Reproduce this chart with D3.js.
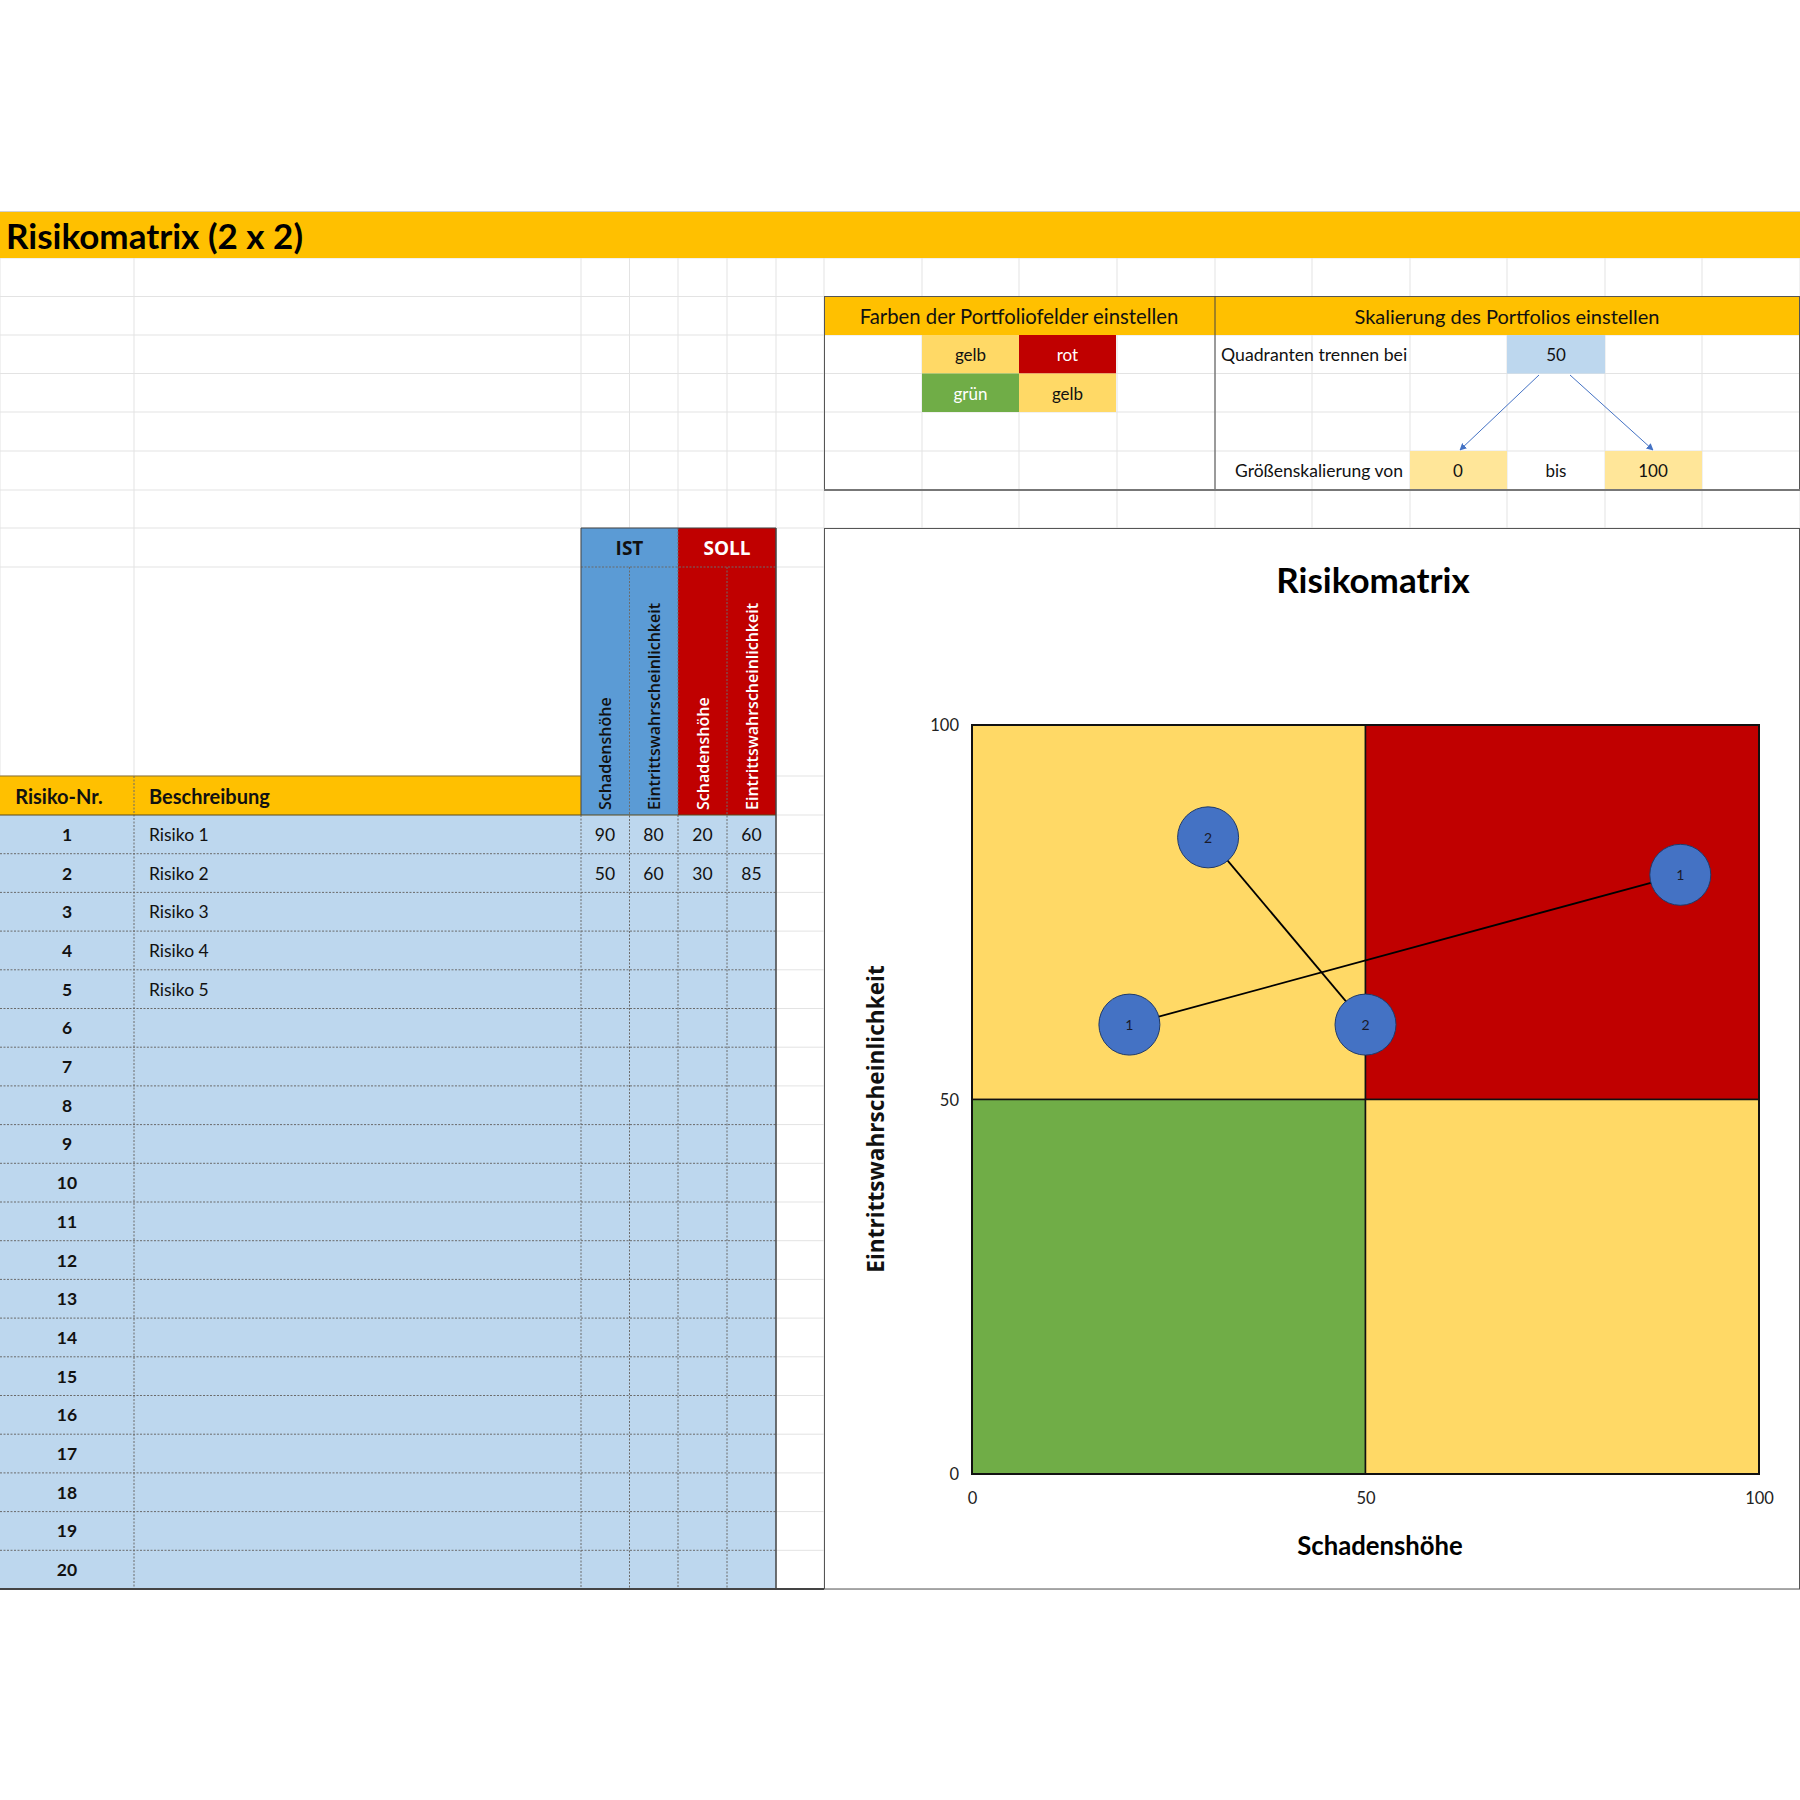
<!DOCTYPE html>
<html><head><meta charset="utf-8">
<script src="https://cdn.jsdelivr.net/npm/d3@7"></script>
<style>html,body{margin:0;padding:0;background:#fff}svg{display:block}</style>
</head><body>
<script>
// ---------- DATA ----------
const riskNumbers = d3.range(1, 21);
const riskDescriptions = ["Risiko 1","Risiko 2","Risiko 3","Risiko 4","Risiko 5"];
const istSchaden = [90, 50];
const istEintritt = [80, 60];
const sollSchaden = [20, 30];
const sollEintritt = [60, 85];
const axisTicks = [0, 50, 100];
const quadrantSplit = 50;
const sizeFrom = 0, sizeTo = 100;
const quadrantColorNames = ["gelb","rot","grün","gelb"];

// ---------- LAYOUT ----------
const W = 1800, H = 1800;
const F = "Lato, 'Open Sans', sans-serif";
const F2 = "'Open Sans', sans-serif";
const C = {orange:"#FFC000", lblue:"#BDD7EE", blue:"#5B9BD5", red:"#C00000",
  yellow:"#FFD966", green:"#70AD47", lyellow:"#FFE699", grid:"#E3E3E3", bubble:"#4472C4"};
const colB = [0,134,581,629.5,678,727,776,824,922,1019,1117,1215,1312,1410,1507,1605,1702,1800];
const rowH = 38.7;
const dataTop = 815;
const rowB = [212,258,296.5,335,373.5,412,451,490,528,567,776,815].concat(d3.range(1,21).map(k=>dataTop+k*rowH));
const tableBottom = dataTop + 20*rowH;

const svg = d3.select("body").append("svg").attr("width",W).attr("height",H);

// sheet gridlines
const grid = svg.append("g");
rowB.forEach(y=>grid.append("line").attr("x1",0).attr("x2",W).attr("y1",y).attr("y2",y).attr("stroke",C.grid));
colB.forEach(x=>grid.append("line").attr("x1",x).attr("x2",x).attr("y1",258).attr("y2",tableBottom).attr("stroke",C.grid));

// title bar
svg.append("rect").attr("x",0).attr("y",212).attr("width",W).attr("height",46).attr("fill",C.orange);
svg.append("line").attr("x1",0).attr("x2",W).attr("y1",211.5).attr("y2",211.5).attr("stroke","#D0D0D0");
svg.append("text").attr("x",6).attr("y",248.5).attr("font-family",F).attr("font-weight",700)
  .attr("font-size",35).attr("fill","#000").text("Risikomatrix (2 x 2)");

// ---------- SETTINGS PANEL ----------
const P = svg.append("g");
P.append("rect").attr("x",824).attr("y",296.5).attr("width",W-824).attr("height",38.5).attr("fill",C.orange);
const cellTxt=(x,y,t,opt={})=>P.append("text").attr("x",x).attr("y",y).attr("text-anchor",opt.anchor||"middle")
  .attr("dominant-baseline","central").attr("font-family",F).attr("font-size",opt.size||17)
  .attr("fill",opt.fill||"#111").text(t);
cellTxt(1019,316,"Farben der Portfoliofelder einstellen",{size:20.3});
cellTxt(1507,316,"Skalierung des Portfolios einstellen",{size:20});
const qcells = [
  {x:922,y:335,c:C.yellow,t:quadrantColorNames[0],f:"#111"},
  {x:1019,y:335,c:C.red,t:quadrantColorNames[1],f:"#fff"},
  {x:922,y:373.5,c:C.green,t:quadrantColorNames[2],f:"#fff"},
  {x:1019,y:373.5,c:C.yellow,t:quadrantColorNames[3],f:"#111"}];
qcells.forEach(q=>{P.append("rect").attr("x",q.x).attr("y",q.y).attr("width",97).attr("height",38.5).attr("fill",q.c);
  cellTxt(q.x+48.5,q.y+19.5,q.t,{fill:q.f});});
cellTxt(1221,354.5,"Quadranten trennen bei",{anchor:"start",size:17.7});
P.append("rect").attr("x",1507).attr("y",335).attr("width",98).attr("height",38.5).attr("fill",C.lblue);
cellTxt(1556,354.5,String(quadrantSplit));
cellTxt(1403,470.5,"Größenskalierung von",{anchor:"end",size:17.5});
P.append("rect").attr("x",1410).attr("y",451).attr("width",97).attr("height",39).attr("fill",C.lyellow);
P.append("rect").attr("x",1605).attr("y",451).attr("width",97).attr("height",39).attr("fill",C.lyellow);
cellTxt(1458,470.5,String(sizeFrom));
cellTxt(1556,470.5,"bis");
cellTxt(1653,470.5,String(sizeTo));
const defs = svg.append("defs");
defs.append("marker").attr("id","arr").attr("viewBox","0 0 10 10").attr("refX",9).attr("refY",5)
  .attr("markerWidth",7).attr("markerHeight",7).attr("orient","auto")
  .append("path").attr("d","M0,0L10,5L0,10z").attr("fill",C.bubble);
[[1539,375,1460,450],[1570,375,1653,450]].forEach(a=>P.append("line").attr("x1",a[0]).attr("y1",a[1]).attr("x2",a[2]).attr("y2",a[3])
  .attr("stroke",C.bubble).attr("stroke-width",1).attr("marker-end","url(#arr)"));
P.append("rect").attr("x",824.5).attr("y",296.5).attr("width",W-825).attr("height",193.5).attr("fill","none").attr("stroke","#555").attr("stroke-width",1);
P.append("line").attr("x1",1215).attr("x2",1215).attr("y1",296.5).attr("y2",490).attr("stroke","#444");
P.append("line").attr("x1",824).attr("x2",W).attr("y1",490).attr("y2",490).attr("stroke","#777").attr("stroke-width",2);

// ---------- TABLE ----------
const T = svg.append("g");
T.append("rect").attr("x",0).attr("y",776).attr("width",581).attr("height",39).attr("fill",C.orange);
T.append("rect").attr("x",0).attr("y",dataTop).attr("width",776).attr("height",tableBottom-dataTop).attr("fill",C.lblue);
T.append("rect").attr("x",581).attr("y",528).attr("width",97).attr("height",287).attr("fill",C.blue);
T.append("rect").attr("x",678).attr("y",528).attr("width",98).attr("height",287).attr("fill",C.red);
const dot = (x1,y1,x2,y2)=>T.append("line").attr("x1",x1).attr("y1",y1).attr("x2",x2).attr("y2",y2)
  .attr("stroke","#6b6b6b").attr("stroke-width",1).attr("stroke-dasharray","2,1.5");
d3.range(1,20).forEach(k=>dot(0,dataTop+k*rowH,776,dataTop+k*rowH));
dot(134,776,134,tableBottom);
[629.5,727].forEach(x=>dot(x,567,x,tableBottom));
dot(678,528,678,tableBottom);
dot(581,815,581,tableBottom);
dot(581,567,776,567);
T.append("line").attr("x1",581).attr("x2",581).attr("y1",528).attr("y2",815).attr("stroke","#444");
T.append("line").attr("x1",581).attr("x2",776).attr("y1",528).attr("y2",528).attr("stroke","#444");
T.append("line").attr("x1",0).attr("x2",776).attr("y1",815).attr("y2",815).attr("stroke","#5a4a1a").attr("stroke-width",1.2);
T.append("line").attr("x1",0).attr("x2",581).attr("y1",776).attr("y2",776).attr("stroke","#8a7030");
T.append("line").attr("x1",776).attr("x2",776).attr("y1",528).attr("y2",tableBottom).attr("stroke","#444").attr("stroke-width",1.5);
T.append("line").attr("x1",0).attr("x2",824).attr("y1",tableBottom).attr("y2",tableBottom).attr("stroke","#444").attr("stroke-width",2);

const tt=(x,y,t,o={})=>T.append("text").attr("x",x).attr("y",y).attr("text-anchor",o.anchor||"middle")
  .attr("dominant-baseline","central").attr("font-family",o.font||F).attr("font-weight",o.w||400)
  .attr("font-size",o.size||17.5).attr("fill",o.fill||"#111").text(t);
tt(59,796,"Risiko-Nr.",{w:700,size:20});
tt(149,796,"Beschreibung",{w:700,size:20,anchor:"start"});
tt(629.5,548,"IST",{w:700,size:19,font:F2});
tt(727,548,"SOLL",{w:700,size:19,fill:"#fff",font:F2});
[{x:605,t:"Schadenshöhe",f:"#111"},{x:653.5,t:"Eintrittswahrscheinlichkeit",f:"#111"},
 {x:702.5,t:"Schadenshöhe",f:"#fff"},{x:751.5,t:"Eintrittswahrscheinlichkeit",f:"#fff"}]
 .forEach(h=>T.append("text").attr("transform",`translate(${h.x},810) rotate(-90)`)
   .attr("dominant-baseline","central").attr("font-family",F2).attr("font-weight",600)
   .attr("font-size",16).attr("fill",h.f).text(h.t));
riskNumbers.forEach((n,i)=>{
  const cy = dataTop + i*rowH + rowH/2;
  tt(67,cy,String(n),{w:700});
  if (riskDescriptions[i]) tt(149,cy,riskDescriptions[i],{anchor:"start"});
  if (istSchaden[i]!==undefined){
    tt(605,cy,istSchaden[i]); tt(653.5,cy,istEintritt[i]);
    tt(702.5,cy,sollSchaden[i]); tt(751.5,cy,sollEintritt[i]);
  }
});

// ---------- CHART ----------
const G = svg.append("g");
G.append("rect").attr("x",824.5).attr("y",528.5).attr("width",W-825).attr("height",tableBottom-528.5).attr("fill","#fff")
  .attr("stroke","#555").attr("stroke-width",1);
G.append("text").attr("x",1373).attr("y",579).attr("text-anchor","middle").attr("dominant-baseline","central")
  .attr("font-family",F).attr("font-weight",700).attr("font-size",35).attr("fill","#000").text("Risikomatrix");

const x = d3.scaleLinear().domain([0,100]).range([972,1759]);
const y = d3.scaleLinear().domain([0,100]).range([1474,725]);
const quads = [
  {x0:0,x1:quadrantSplit,y0:quadrantSplit,y1:100,c:C.yellow},
  {x0:quadrantSplit,x1:100,y0:quadrantSplit,y1:100,c:C.red},
  {x0:0,x1:quadrantSplit,y0:0,y1:quadrantSplit,c:C.green},
  {x0:quadrantSplit,x1:100,y0:0,y1:quadrantSplit,c:C.yellow}];
G.selectAll("rect.q").data(quads).join("rect").attr("class","q")
  .attr("x",d=>x(d.x0)).attr("y",d=>y(d.y1)).attr("width",d=>x(d.x1)-x(d.x0)).attr("height",d=>y(d.y0)-y(d.y1))
  .attr("fill",d=>d.c).attr("stroke","#111").attr("stroke-width",1.5);
G.append("rect").attr("x",x(0)).attr("y",y(100)).attr("width",x(100)-x(0)).attr("height",y(0)-y(100))
  .attr("fill","none").attr("stroke","#111").attr("stroke-width",2);

const xAxis = G.append("g").attr("transform",`translate(0,${y(0)+18})`)
  .call(d3.axisBottom(x).tickValues(axisTicks).tickSize(0).tickPadding(0));
const yAxis = G.append("g").attr("transform",`translate(${x(0)-13},0)`)
  .call(d3.axisLeft(y).tickValues(axisTicks).tickSize(0).tickPadding(0));
[xAxis,yAxis].forEach(a=>{a.select(".domain").remove();
  a.selectAll("text").attr("font-family",F).attr("font-size",16.5).attr("fill","#222");});
yAxis.selectAll("text").attr("dy","0.35em");

G.append("text").attr("x",1380).attr("y",1545).attr("text-anchor","middle").attr("dominant-baseline","central")
  .attr("font-family",F).attr("font-weight",700).attr("font-size",25.7).attr("fill","#000").text("Schadenshöhe");
G.append("text").attr("transform","translate(875,1119) rotate(-90)").attr("text-anchor","middle")
  .attr("dominant-baseline","central").attr("font-family",F2).attr("font-weight",700).attr("font-size",22.6)
  .attr("fill","#111").text("Eintrittswahrscheinlichkeit");

const pts = istSchaden.map((v,i)=>({n:i+1, ix:v, iy:istEintritt[i], sx:sollSchaden[i], sy:sollEintritt[i]}));
G.selectAll("line.link").data(pts).join("line").attr("class","link")
  .attr("x1",d=>x(d.ix)).attr("y1",d=>y(d.iy)).attr("x2",d=>x(d.sx)).attr("y2",d=>y(d.sy))
  .attr("stroke","#000").attr("stroke-width",1.8);
const bubbles = pts.flatMap(d=>[{n:d.n,vx:d.ix,vy:d.iy},{n:d.n,vx:d.sx,vy:d.sy}]);
const r = 30.5;
G.selectAll("circle.b").data(bubbles).join("circle").attr("class","b")
  .attr("cx",d=>x(d.vx)).attr("cy",d=>y(d.vy)).attr("r",r)
  .attr("fill",C.bubble).attr("stroke","#1f3a6a").attr("stroke-width",1);
G.selectAll("text.bl").data(bubbles).join("text").attr("class","bl")
  .attr("x",d=>x(d.vx)).attr("y",d=>y(d.vy)).attr("text-anchor","middle").attr("dominant-baseline","central")
  .attr("font-family",F).attr("font-size",14).attr("fill","#1a1a2a").text(d=>d.n);
</script>
</body></html>
